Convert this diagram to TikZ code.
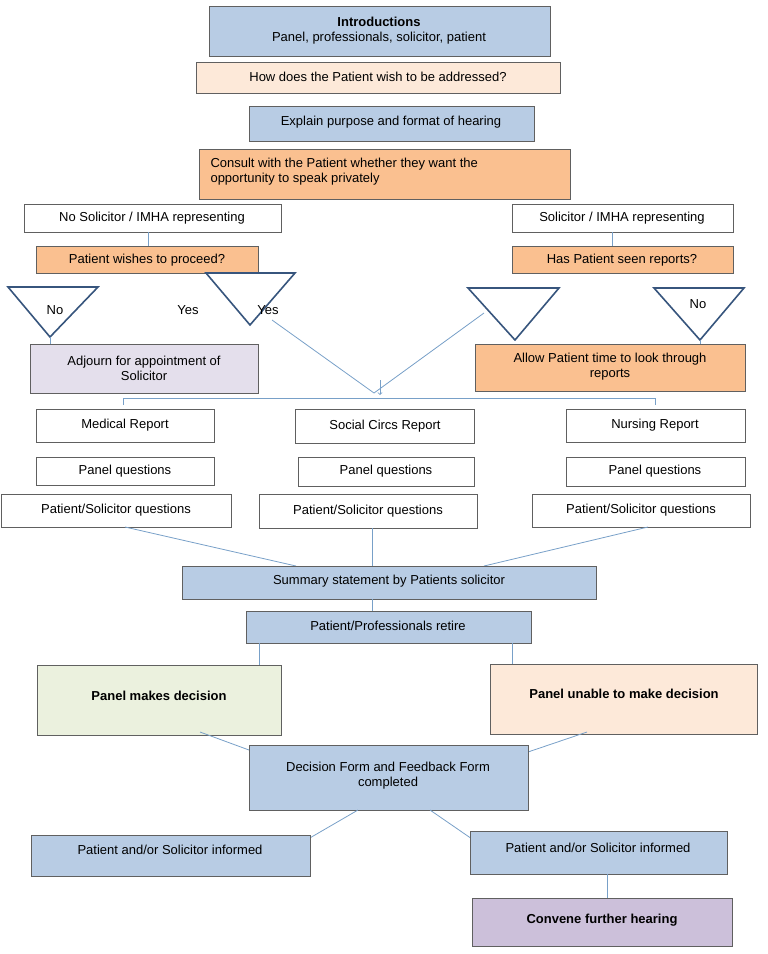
\documentclass[tikz,border=0pt]{standalone}
\usepackage{fontspec}
\setmainfont{Liberation Sans}
\begin{document}
\begin{tikzpicture}[x=1pt,y=-1pt,
  box/.style={draw=gray!75!black,line width=0.8pt,inner sep=0pt},
  txt/.style={font=\fontsize{13}{15}\selectfont,align=center},
  blu/.style={fill={rgb,255:red,184;green,204;blue,228}},
  peach/.style={fill={rgb,255:red,253;green,233;blue,217}},
  orng/.style={fill={rgb,255:red,250;green,192;blue,144}},
  lav/.style={fill={rgb,255:red,228;green,223;blue,236}},
  grn/.style={fill={rgb,255:red,235;green,241;blue,222}},
  purp/.style={fill={rgb,255:red,204;green,192;blue,218}},
  wht/.style={fill=white},
  ln/.style={draw={rgb,255:red,120;green,160;blue,200},line width=0.8pt},
  tri/.style={draw={rgb,255:red,55;green,85;blue,125},line width=1.6pt,fill=white}]
\useasboundingbox (0,0) rectangle (768,954);
\newcommand{\bx}[5]{\draw[box,#5] (#1) rectangle (#2); \node[txt] (#3) at ($(#1)!0.5!(#2)$) {#4};}
\path (0,0);
% boxes
\draw[box,blu] (209,6) rectangle (550,56);
\node[txt] (intro) at (379,31) {\textbf{Introductions}\\Panel, professionals, solicitor, patient};
\draw[box,peach] (196,62) rectangle (560,93);
\node[txt] (how) at (378,77) {How does the Patient wish to be addressed?};
\draw[box,blu] (249,106) rectangle (534,141);
\node[txt] (expl) at (391,122) {Explain purpose and format of hearing};
\draw[box,orng] (199,149) rectangle (570,199);
\node[txt,align=left,anchor=west] (cons) at (207,172) {Consult with the Patient whether they want the\\opportunity to speak privately};
\draw[box,wht] (24,204) rectangle (281,232);
\node[txt] (nosol) at (152,218) {No Solicitor / IMHA representing};
\draw[box,wht] (512,204) rectangle (733,232);
\node[txt] (sol) at (622,218) {Solicitor / IMHA representing};
\draw[ln] (148,232) -- (148,246);
\draw[ln] (612,232) -- (612,246);
\draw[box,orng] (36,246) rectangle (258,273);
\node[txt] (pwp) at (147,260) {Patient wishes to proceed?};
\draw[box,orng] (512,246) rectangle (733,273);
\node[txt] (hps) at (622,260) {Has Patient seen reports?};
% triangles
\draw[tri] (8,287) -- (98,287) -- (50,337) -- cycle;
\draw[tri] (206,273) -- (295,273) -- (250,325) -- cycle;
\draw[tri] (468,288) -- (559,288) -- (515,340) -- cycle;
\draw[tri] (654,288) -- (744,288) -- (700,340) -- cycle;
\node[txt] (no1) at (55,310) {No};
\node[txt] (yes1) at (188,310) {Yes};
\node[txt] (yes2) at (268,310) {Yes};
\node[txt] (no2) at (698,304) {No};
\draw[ln] (50,337) -- (50,344);
\draw[ln] (700,340) -- (700,344);
\draw[box,lav] (30,344) rectangle (258,393);
\node[txt] (adj) at (144,368) {Adjourn for appointment of\\Solicitor};
\draw[box,orng] (475,344) rectangle (745,391);
\node[txt] (allow) at (610,367) {Allow Patient time to look through\\reports};
\coordinate (m) at (374,393);
\draw[ln] (272,320) -- (m) -- (484,313);
\draw[ln,->] (380,380) -- (380,395);
\draw[ln] (123,405) -- (123,398) -- (655,398) -- (655,405);
% reports
\draw[box,wht] (36,409) rectangle (214,442); \node[txt] (med) at (125,425) {Medical Report};
\draw[box,wht] (295,409) rectangle (474,443); \node[txt] (soc) at (385,426) {Social Circs Report};
\draw[box,wht] (566,409) rectangle (745,442); \node[txt] (nur) at (655,425) {Nursing Report};
\draw[box,wht] (36,457) rectangle (214,485); \node[txt] (pq1) at (125,471) {Panel questions};
\draw[box,wht] (298,457) rectangle (474,486); \node[txt] (pq2) at (386,471) {Panel questions};
\draw[box,wht] (566,457) rectangle (745,486); \node[txt] (pq3) at (655,471) {Panel questions};
\draw[box,wht] (1,494) rectangle (231,527); \node[txt] (ps1) at (116,510) {Patient/Solicitor questions};
\draw[box,wht] (259,494) rectangle (477,528); \node[txt] (ps2) at (368,511) {Patient/Solicitor questions};
\draw[box,wht] (532,494) rectangle (750,527); \node[txt] (ps3) at (641,510) {Patient/Solicitor questions};
\draw[ln] (125,527) -- (296,566);
\draw[ln] (372,528) -- (372,566);
\draw[ln] (648,527) -- (484,566);
\draw[box,blu] (182,566) rectangle (596,599);
\node[txt] (sum) at (389,581) {Summary statement by Patients solicitor};
\draw[ln] (372,599) -- (372,611);
\draw[box,blu] (246,611) rectangle (531,643);
\node[txt] (ret) at (388,626) {Patient/Professionals retire};
\draw[ln] (259,643) -- (259,665);
\draw[ln] (512,643) -- (512,664);
\draw[box,grn] (37,665) rectangle (281,735);
\node[txt] (pmd) at (159,696) {\textbf{Panel makes decision}};
\draw[box,peach] (490,664) rectangle (757,734);
\node[txt] (pud) at (624,694) {\textbf{Panel unable to make decision}};
\draw[ln] (200,732) -- (249,750);
\draw[ln] (587,732) -- (528,752);
\draw[box,blu] (249,745) rectangle (528,810);
\node[txt] (dec) at (388,776) {Decision Form and Feedback Form\\completed};
\draw[ln] (358,810) -- (296,846);
\draw[ln] (430,810) -- (488,850);
\draw[box,blu] (31,835) rectangle (310,876);
\node[txt] (inf1) at (170,850) {Patient and/or Solicitor informed};
\draw[box,blu] (470,831) rectangle (727,874);
\node[txt] (inf2) at (598,848) {Patient and/or Solicitor informed};
\draw[ln] (607,874) -- (607,898);
\draw[box,purp] (472,898) rectangle (732,946);
\node[txt] (conv) at (602,920) {\textbf{Convene further hearing}};
\end{tikzpicture}
\end{document}
